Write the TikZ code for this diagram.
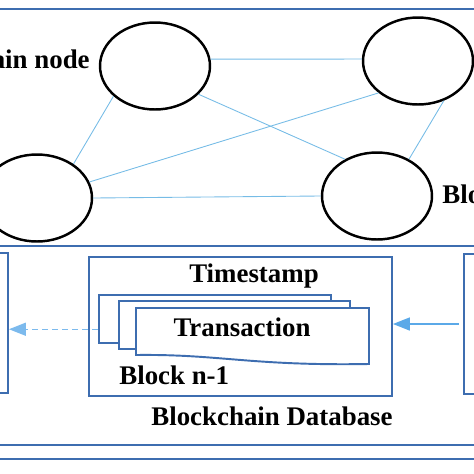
\documentclass[tikz,border=0pt]{standalone}
\usepackage{fontspec}
\setmainfont{Liberation Serif}
\usetikzlibrary{shapes.geometric,arrows.meta}
\definecolor{boxblue}{HTML}{3D6DB0}
\definecolor{linkblue}{HTML}{76BCE6}
\definecolor{arrblue}{HTML}{5BA9E8}

\begin{document}
\begin{tikzpicture}[x=0.02cm,y=-0.02cm,
      peer/.style={ellipse,draw,line width=1.4pt,minimum width=2.2cm,
        minimum height=1.74cm,inner sep=0pt},
      link/.style={linkblue,line width=0.5pt},
      box/.style={draw=boxblue,line width=1.1pt},
      lbl/.style={inner sep=0pt,font=\fontsize{15.3}{18}\selectfont\bfseries},
      >={Triangle[length=9.6pt,width=7.4pt]}]
      \useasboundingbox(0,0)rectangle(474,474);
      \clip(0,0)rectangle(474,474);
      % peers
      \node[peer](tl)at(155,66){};
      \node[peer](tr)at(418,61){};
      \node[peer](bl)at(37,198){};
      \node[peer](br)at(377,196){};
      \node[lbl,anchor=base east](tlname)at(90,68){Blockchain node};
      \node[lbl,anchor=base west](brname)at(442,203){Blockchain node};
      \draw[link](tl.7)--(tr.178);
      \draw[link](tl.216)--(bl.43);
      \draw[link](tl.327)--(br.131);
      \draw[link](tr.219)--(bl.17);
      \draw[link](tr.303)--(br.49);
      \draw[link](bl.0)--(br.180);
      % database
      \draw[box](0,9)--(474,9);
      \draw[box](0,246)--(474,246);
      \draw[box](0,445)--(474,445)(0,459)--(474,459);
      \node[box,minimum width=1.16cm,minimum height=2.8cm](prev)at(-21,323){};
      \node[box,minimum width=1.12cm,minimum height=2.8cm](next)at(492,324){};
      \node[box,minimum width=6.06cm,minimum height=2.78cm](db)at(240.5,326.5){};
      \node[box,fill=white,minimum width=4.64cm,minimum height=0.96cm](doc1)at(215,319){};
      \node[box,fill=white,minimum width=4.62cm,minimum height=0.96cm](doc2)at(234.5,325){};
      \draw[box,fill=white](136,308)--(369,308)--(369,364)
         ..controls(250,366)and(220,354)..(136,355)--cycle;
      \node[lbl,anchor=base](ts)at(254,282){Timestamp};
      \node[lbl,anchor=base](tx)at(242,336){Transaction};
      \node[lbl,anchor=base west](blk)at(119,384){Block n-1};
      \node[lbl,anchor=base](dbname)at(272,425){Blockchain Database};
      \draw[->,arrblue!80,line width=0.7pt,dash pattern=on 0.12cm off 0.08cm]
         (doc1.185)--(prev.east|-doc1.185);
      \draw[->,arrblue,line width=0.7pt,shorten <=0.08cm](next.west)--(db.east|-next.west);
    \end{tikzpicture}
\end{document}
